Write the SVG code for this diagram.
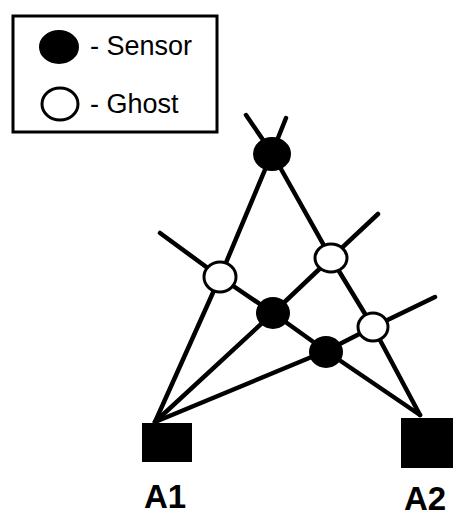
<svg xmlns="http://www.w3.org/2000/svg" width="474" height="526" viewBox="0 0 474 526">
<style>
.edge{stroke:#000;stroke-width:4.5;fill:none;stroke-linecap:round;stroke-linejoin:round}
.sensor{fill:#000;stroke:#000;stroke-width:2}
.ghost{fill:#fff;stroke:#000;stroke-width:3}
.anchor{fill:#000}
.lbl{font-family:"Liberation Sans",Arial,sans-serif;font-size:27px;fill:#000}
.alb{font-family:"Liberation Sans",Arial,sans-serif;font-size:33px;font-weight:bold;fill:#000}
</style>
<rect width="474" height="526" fill="#fff"/>
<g id="legend">
<rect x="13" y="16" width="204" height="116" fill="#fff" stroke="#000" stroke-width="3"/>
<ellipse class="sensor" cx="59" cy="47" rx="19" ry="16"/>
<text class="lbl" x="90" y="55">- Sensor</text>
<ellipse class="ghost" cx="60" cy="104" rx="18" ry="16"/>
<text class="lbl" x="90" y="113">- Ghost</text>
</g>
<g id="connectors">
<polyline class="edge" points="155,422 220,277 272,153 286,118"/>
<polyline class="edge" points="420,415 373,327 331,258 272,153 246,115"/>
<polyline class="edge" points="160,233 220,277 273,313 326,351 420,415"/>
<polyline class="edge" points="155,422 273,313 331,258 378,214"/>
<polyline class="edge" points="155,422 326,351 373,327 435,297"/>
</g>
<g id="sensor-top"><ellipse class="sensor" cx="272" cy="154" rx="18" ry="16"/></g>
<g id="ghost-left"><ellipse class="ghost" cx="220" cy="277" rx="16" ry="15"/></g>
<g id="ghost-right-top"><ellipse class="ghost" cx="331" cy="258" rx="16" ry="14"/></g>
<g id="ghost-right-low"><ellipse class="ghost" cx="373" cy="327" rx="15" ry="14"/></g>
<g id="sensor-mid1"><ellipse class="sensor" cx="273" cy="313" rx="16" ry="15"/></g>
<g id="sensor-mid2"><ellipse class="sensor" cx="326" cy="352" rx="16" ry="15"/></g>
<g id="A1">
<rect class="anchor" x="142" y="423" width="50" height="39"/>
<text class="alb" x="144" y="508">A1</text>
</g>
<g id="A2">
<rect class="anchor" x="401" y="418" width="52" height="50"/>
<text class="alb" x="404" y="510">A2</text>
</g>
</svg>
